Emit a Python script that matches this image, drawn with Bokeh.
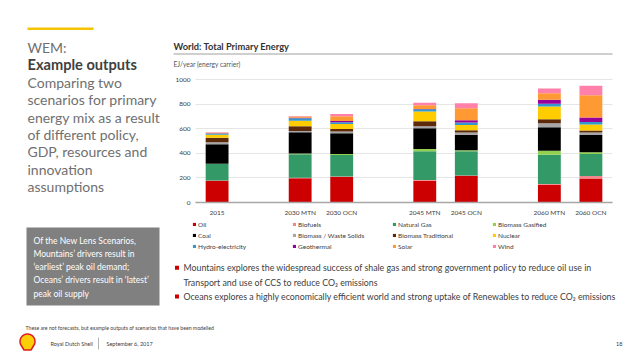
from bokeh.plotting import figure
from bokeh.models import (Range1d, FixedTicker, Legend, LegendItem, ColumnDataSource,
                          LinearAxis)
from bokeh.core.properties import value
from bokeh.embed import file_html
from bokeh.resources import INLINE
import numpy as np

# ---------------- data ----------------
categories = ["2015", "2030 MTN", "2030 OCN", "2045 MTN", "2045 OCN", "2060 MTN", "2060 OCN"]
oil = [177, 197, 208, 177, 218, 144, 196]
biofuels = [3, 4, 3, 6, 3, 6, 19]
natural_gas = [133, 192, 176, 234, 196, 240, 180]
biomass_gasified = [2, 7, 8, 19, 8, 32, 14]
coal = [160, 172, 169, 169, 128, 191, 141]
biomass_waste_solids = [16, 11, 14, 16, 17, 33, 20]
biomass_traditional = [36, 38, 22, 41, 19, 33, 16]
nuclear = [25, 46, 40, 79, 43, 103, 49]
hydro = [10, 20, 14, 19, 19, 22, 22]
geothermal = [2, 3, 10, 3, 19, 33, 35]
solar = [4, 10, 38, 30, 98, 54, 183]
wind = [5, 5, 20, 19, 41, 38, 76]

series_names = ["Oil", "Biofuels", "Natural Gas", "Biomass Gasified",
                "Coal", "Biomass / Waste Solids", "Biomass Traditional", "Nuclear",
                "Hydro-electricity", "Geothermal", "Solar", "Wind"]
series_values = [oil, biofuels, natural_gas, biomass_gasified, coal, biomass_waste_solids,
                 biomass_traditional, nuclear, hydro, geothermal, solar, wind]
y_ticks = [0, 200, 400, 600, 800, 1000]

# ---------------- layout / style ----------------
colors = ["#cc0000", "#f4868c", "#339966", "#92d050", "#000000", "#a6a6a6",
          "#5c2a0a", "#ffcc00", "#3399cc", "#990099", "#ff9933", "#ff80a8"]
x_pos = [0, 2, 3, 5, 6, 8, 9]   # bar slots (gaps between year groups)
FONT = "Lato"
TXT = "#404040"
W, H = 638, 359

# chart area in page pixels
CX0, CX1 = -0.52, 9.52          # chart x extent (slot units)
PX0, PX1 = 195.0, 612.0          # its pixel extent
Y0_PIX, Y1000_PIX = 202.0, 79.3  # pixel rows of y=0 and y=1000
ux = (PX1 - PX0) / (CX1 - CX0)
uy = (Y0_PIX - Y1000_PIX) / 1000.0
cx_range = Range1d(CX0 - PX0 / ux, CX1 + (W - PX1) / ux)
cy_range = Range1d(-(H - Y0_PIX) / uy, Y0_PIX / uy)

p = figure(width=W, height=H, x_range=Range1d(0, W), y_range=Range1d(H, 0),
           output_backend="svg", toolbar_location=None, min_border=0,
           x_axis_location=None, y_axis_location=None,
           outline_line_color=None, background_fill_color="white", border_fill_color="white")
p.grid.visible = False
p.extra_x_ranges = {"cx": cx_range}
p.extra_y_ranges = {"cy": cy_range}

# ---- chart ----
keys = ["s%d" % i for i in range(len(series_names))]
data = dict(x=x_pos, label=categories)
for k, v in zip(keys, series_values):
    data[k] = v
source = ColumnDataSource(data)
renderers = p.vbar_stack(keys, x="x", width=0.55, color=colors, line_color=None, source=source,
                         x_range_name="cx", y_range_name="cy")

yaxis = LinearAxis(x_range_name="cx", y_range_name="cy", fixed_location=CX0,
                   ticker=FixedTicker(ticks=y_ticks), bounds=(0, 1000),
                   axis_line_color=None, minor_tick_line_color=None,
                   major_tick_in=int(PX1 - PX0), major_tick_out=0,
                   major_tick_line_color="#e6e6e6", major_tick_line_width=1,
                   major_label_text_font_size="6.5px", major_label_text_font=FONT,
                   major_label_text_color=TXT, major_label_standoff=5, level="underlay")
p.add_layout(yaxis, "left")

xaxis = LinearAxis(x_range_name="cx", y_range_name="cy", fixed_location=0,
                   ticker=FixedTicker(ticks=x_pos), bounds=(CX0, CX1),
                   major_label_overrides={x: c for x, c in zip(x_pos, categories)},
                   axis_line_color="#a6a6a6", axis_line_width=1.5,
                   major_tick_line_color=None, minor_tick_line_color=None,
                   major_tick_in=0, major_tick_out=0,
                   major_label_text_font_size="6.5px", major_label_text_font=FONT,
                   major_label_text_color=TXT, major_label_standoff=6)
p.add_layout(xaxis, "below")

items = [LegendItem(label=n, renderers=[r]) for n, r in zip(series_names, renderers)]
legend = Legend(items=items, location=(192, H - 250), orientation="horizontal", ncols=4,
                glyph_width=4, glyph_height=4, label_width=91, label_height=8,
                label_standoff=2, spacing=3, padding=0, margin=0,
                label_text_font_size="6.5px", label_text_font=FONT, label_text_color=TXT,
                border_line_color=None, background_fill_alpha=0)
p.add_layout(legend, "center")


def txt(s, x, y, size, color, bold=False, align="left"):
    p.text(x=[x], y=[y], text=[s], text_font=value(FONT), text_font_size=value("%spx" % size),
           text_color=color, text_font_style="bold" if bold else "normal",
           text_baseline="middle", text_align=align)


def box(x0, y0, x1, y1, color):
    p.quad(left=[x0], right=[x1], top=[y0], bottom=[y1], fill_color=color, line_color=None)


# ---- left panel ----
box(27, 27, 93, 29.5, "#f5c400")
txt("WEM:", 27, 47, 14, "#707070")
txt("Example outputs", 27, 63.5, 14.6, TXT, bold=True)
body = ["Comparing two", "scenarios for primary", "energy mix as a result",
        "of different policy,", "GDP, resources and", "innovation", "assumptions"]
for i, line in enumerate(body):
    txt(line, 27, 82 + 17.3 * i, 14, "#707070")
box(26, 227, 159, 305, "#808080")
box_lines = ["Of the New Lens Scenarios,", "Mountains\u2019 drivers result in",
             "\u2018earliest\u2019 peak oil demand;", "Oceans\u2019 drivers result in \u2018latest\u2019",
             "peak oil supply"]
for i, line in enumerate(box_lines):
    txt(line, 33, 240 + 13.3 * i, 8.5, "white")

# ---- chart header ----
txt("World: Total Primary Energy", 173, 46, 9.3, "#333333", bold=True)
box(173, 53, 612, 54, "#a0a0a0")
txt("EJ/year (energy carrier)", 173, 63.5, 6.6, "#555555")

# ---- bullets ----
box(174.5, 265.3, 178.5, 269.3, "#cc0000")
box(174.5, 294, 178.5, 298, "#cc0000")
txt("Mountains explores the widespread success of shale gas and strong government policy to reduce oil use in",
    183, 267.3, 8.8, TXT)
txt("Transport and use of CCS to reduce CO\u2082 emissions", 183, 281.7, 8.8, TXT)
txt("Oceans explores a highly economically efficient world and strong uptake of Renewables to reduce CO\u2082 emissions",
    183, 296, 8.8, TXT)

# ---- footer ----
txt("These are not forecasts, but example outputs of scenarios that have been modelled", 25, 327, 5.2, TXT)
ang = np.linspace(np.pi * 1.12, -np.pi * 0.12, 30)
lx = list(27 + 7.5 * np.cos(ang)) + [30.5, 23.5]
ly = list(341 - 7.5 * np.sin(ang)) + [349.5, 349.5]
p.patch(lx, ly, fill_color="#fbce07", line_color="#dd1d21", line_width=1.5)
txt("Royal Dutch Shell", 50, 343, 5.5, TXT)
box(97.5, 337, 98.3, 349, "#a0a0a0")
txt("September 6, 2017", 106, 343, 5.5, TXT)
txt("18", 622, 343, 5.5, TXT, align="right")

open("out.html", "w").write(file_html(p, INLINE))
